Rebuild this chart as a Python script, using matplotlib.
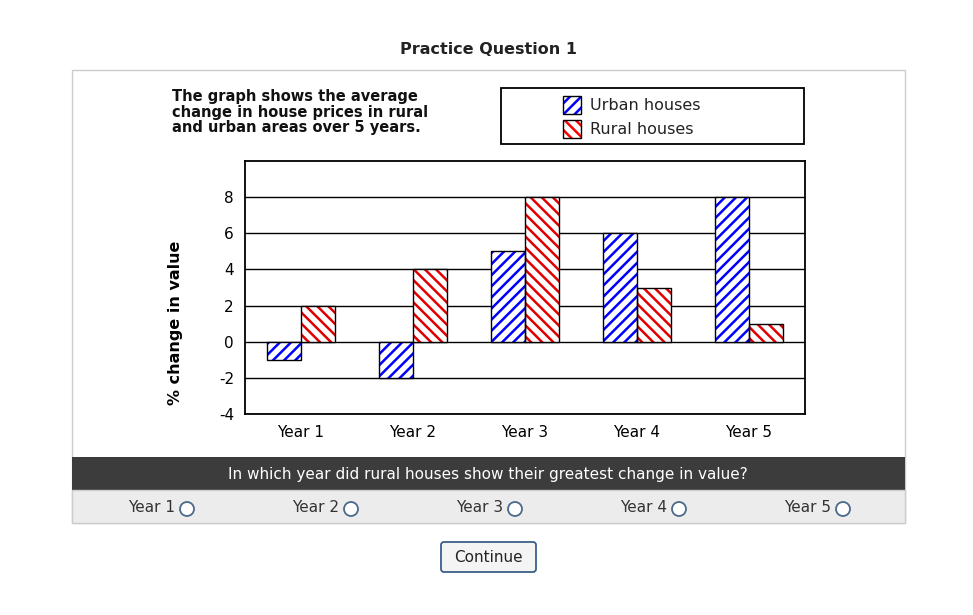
import matplotlib
matplotlib.use("Agg")
import matplotlib.pyplot as plt
from matplotlib.patches import Rectangle, Circle, FancyBboxPatch
import numpy as np

categories = ["Year 1", "Year 2", "Year 3", "Year 4", "Year 5"]
urban = [-1, -2, 5, 6, 8]
rural = [2, 4, 8, 3, 1]
yticks = [-4, -2, 0, 2, 4, 6, 8]

plt.rcParams["axes.unicode_minus"] = False
plt.rcParams["hatch.linewidth"] = 1.8

W, H = 973, 615
fig = plt.figure(figsize=(W/100, H/100), dpi=100)
bg = fig.add_axes([0, 0, 1, 1])
bg.set_xlim(0, W); bg.set_ylim(H, 0); bg.axis("off")

bg.text(488, 49, "Practice Question 1", ha="center", va="center", fontsize=11.5, fontweight="bold", color="#222")
bg.add_patch(Rectangle((72, 70), 833, 453, fc="white", ec="#cccccc", lw=1))
bg.add_patch(Rectangle((72, 457), 833, 33, fc="#3c3c3c", ec="none"))
bg.add_patch(Rectangle((72, 490), 833, 33, fc="#ececec", ec="#cccccc", lw=1))
bg.text(488, 474, "In which year did rural houses show their greatest change in value?",
        ha="center", va="center", fontsize=11, color="white")
for i, c in enumerate(categories):
    cx = 150 + i * 164
    bg.text(cx + 25, 508, c, ha="right", va="center", fontsize=11, color="#333")
    bg.add_patch(Circle((cx + 37, 509), 7, fc="white", ec="#4a6a8a", lw=1.3))
bg.add_patch(FancyBboxPatch((441, 542), 95, 30, boxstyle="round,pad=0,rounding_size=3",
                            fc="#f4f4f4", ec="#3a5f8a", lw=1.3))
bg.text(488, 557, "Continue", ha="center", va="center", fontsize=11, color="#222")

bg.text(172, 112, "The graph shows the average\nchange in house prices in rural\nand urban areas over 5 years.",
        ha="left", va="center", fontsize=10.5, fontweight="bold", linespacing=1.05, color="#111")
bg.add_patch(Rectangle((501, 88), 303, 56, fc="white", ec="black", lw=1.3))
bg.add_patch(Rectangle((563, 96), 18, 18, fc="white", ec="blue", hatch="///", lw=0))
bg.add_patch(Rectangle((563, 96), 18, 18, fill=False, ec="black", lw=1))
bg.add_patch(Rectangle((563, 120), 18, 18, fc="white", ec="red", hatch="\\\\\\", lw=0))
bg.add_patch(Rectangle((563, 120), 18, 18, fill=False, ec="black", lw=1))
bg.text(590, 105, "Urban houses", va="center", fontsize=11.5, color="#222")
bg.text(590, 129, "Rural houses", va="center", fontsize=11.5, color="#222")

ax = fig.add_axes([245/W, 1-414/H, 560/W, 253/H])
x = np.arange(len(categories))
bw = 0.3
ax.bar(x - bw/2, urban, bw, color="white", edgecolor="blue", hatch="///", lw=0, zorder=2)
ax.bar(x - bw/2, urban, bw, fill=False, edgecolor="black", lw=1, zorder=3)
ax.bar(x + bw/2, rural, bw, color="white", edgecolor="#e00000", hatch="\\\\\\", lw=0, zorder=2)
ax.bar(x + bw/2, rural, bw, fill=False, edgecolor="black", lw=1, zorder=3)
ax.set_xlim(-0.5, 4.5); ax.set_ylim(-4, 10)
ax.set_yticks(yticks)
ax.set_xticks(x); ax.set_xticklabels(categories)
for y in yticks:
    ax.axhline(y, color="black", lw=1, zorder=1)
ax.tick_params(length=0, labelsize=11, pad=8)
for s in ax.spines.values():
    s.set_linewidth(1.3)
ax.set_ylabel("% change in value", fontsize=11.5, fontweight="bold")
ax.yaxis.set_label_coords(-0.11, 0.36)
fig.savefig("out.png", dpi=100)
